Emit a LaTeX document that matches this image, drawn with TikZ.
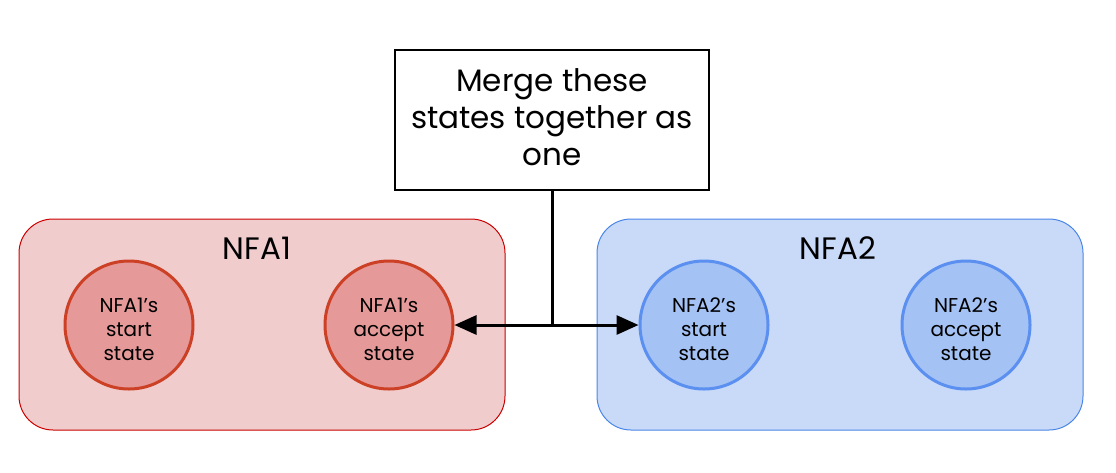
\documentclass[tikz,border=0pt]{standalone}
\usepackage{fontspec}
\setmainfont{Poppins}
\usetikzlibrary{arrows.meta}
\definecolor{redfill}{HTML}{F0CCCD}
\definecolor{redline}{HTML}{CC0000}
\definecolor{redcirc}{HTML}{E69999}
\definecolor{redcircline}{HTML}{CC4125}
\definecolor{bluefill}{HTML}{C9DAF8}
\definecolor{blueline}{HTML}{4A86E8}
\definecolor{bluecirc}{HTML}{A4C2F4}
\definecolor{bluecircline}{HTML}{5B8FF0}
\tikzset{
  panel/.style={rounded corners=34pt, line width=1pt},
  statebase/.style={circle, line width=3pt, minimum size=128pt, inner sep=0pt},
  statered/.style={statebase, draw=redcircline, fill=redcirc},
  stateblue/.style={statebase, draw=bluecircline, fill=bluecirc},
  statetext/.style={align=center, inner sep=0pt, yshift=-4pt, font=\fontsize{20}{24}\selectfont},
  title/.style={font=\fontsize{31}{34}\selectfont},
  note/.style={draw=black, line width=2pt, fill=white, minimum width=314pt, minimum height=140pt, align=center, inner sep=0pt},
  notetext/.style={align=center, inner sep=0pt, yshift=3pt, font=\fontsize{31}{37}\selectfont},
  link/.style={line width=3pt},
  tip/.style={-{Triangle[length=22pt,width=19pt]}}
}
\begin{document}
\begin{tikzpicture}[x=1pt,y=-1pt]
\useasboundingbox (0,0) rectangle (1116,472);
\draw[panel, draw=redline, fill=redfill] (19,219) rectangle (505,430);
\draw[panel, draw=blueline, fill=bluefill] (597,219) rectangle (1083,430);
\node[title] (t1) at (257,248) {NFA1};
\node[title] (t2) at (838,248) {NFA2};
\node[statered, label={[statetext]center:{NFA1’s\\start\\state}}] (s1) at (129,325) {};
\node[statered, label={[statetext]center:{NFA1’s\\accept\\state}}] (a1) at (389,325) {};
\node[stateblue, label={[statetext]center:{NFA2’s\\start\\state}}] (s2) at (704,325) {};
\node[stateblue, label={[statetext]center:{NFA2’s\\accept\\state}}] (a2) at (966,325) {};
\node[note, label={[notetext]center:{Merge these\\states together as\\one}}] (m) at (552,120) {};
\coordinate (j) at (552,325);
\draw[link] (m.south) -- (j);
\draw[link, tip] (j) -- (a1.east);
\draw[link, tip] (j) -- (s2.west);
\end{tikzpicture}
\end{document}
